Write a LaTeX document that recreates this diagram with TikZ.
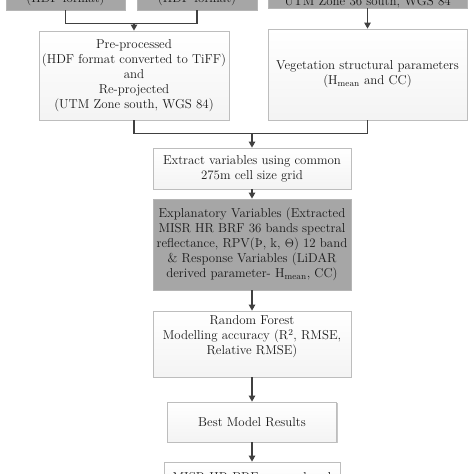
\documentclass[tikz,border=0pt]{standalone}
\usetikzlibrary{arrows.meta,shadows,calc}
\definecolor{boxline}{gray}{0.74}
\definecolor{darkfill}{gray}{0.65}
\definecolor{connc}{gray}{0.25}
\tikzset{
 base/.style={draw=boxline, line width=0.8pt, drop shadow={shadow xshift=1.2pt,shadow yshift=-1.2pt,opacity=0.22,fill=black}, inner sep=0pt, align=center},
 whitebox/.style={base, top color=white, bottom color=gray!9},
 darkbox/.style={base, fill=darkfill, draw=gray!58},
 txt/.style={align=center, inner sep=0pt, text=black!90, font=\fontsize{12.9}{15}\selectfont},
 conn/.style={draw=connc, line width=1.1pt},
 arr/.style={conn, -{Triangle[length=6pt,width=6.5pt]}},
}
\begin{document}
\begin{tikzpicture}[x=1pt,y=-1pt]
\path[use as bounding box] (0,0) rectangle (474,474);
\clip (0,0) rectangle (474,474);
% top boxes (cut off by the frame, as in the reference)
\node[darkbox, minimum width=119pt, minimum height=50pt] (t1) at (65.5,-15) {};
\node[darkbox, minimum width=120pt, minimum height=50pt] (t2) at (197,-15) {};
\node[darkbox, minimum width=199pt, minimum height=48pt] (t3) at (367.5,-16) {};
\node[txt, anchor=base] (t1t) at (t1.south |- 0,2) {(HDF format)};
\node[txt, anchor=base] (t2t) at (t2.south |- 0,2) {(HDF format)};
\node[txt, anchor=base] (t3t) at (t3.south |- 0,5) {UTM Zone 36 south, WGS 84};
% second row
\node[whitebox, minimum width=190pt, minimum height=89pt] (pre) at (134,75.5) {};
\node[txt] (pret) at (pre.center) {Pre-processed\\(HDF format converted to TiFF)\\and\\Re-projected\\(UTM Zone south, WGS 84)};
\node[whitebox, minimum width=199pt, minimum height=91pt] (veg) at (367.5,74.5) {};
\node[txt] (vegt) at (veg.center) {Vegetation structural parameters\\(H\textsubscript{mean} and CC)};
% main column
\node[whitebox, minimum width=198pt, minimum height=41pt] (ext) at (252,168.5) {};
\node[txt] (extt) at (ext.center) {Extract variables using common\\275m cell size grid};
\node[darkbox, minimum width=198pt, minimum height=91pt] (expl) at (252,244.5) {};
\node[txt] (explt) at (expl.center) {Explanatory Variables (Extracted\\MISR HR BRF 36 bands spectral\\reflectance, RPV(Þ, k, $\Theta$) 12 band\\\& Response Variables (LiDAR\\derived parameter- H\textsubscript{mean}, CC)};
\node[whitebox, minimum width=198pt, minimum height=66pt] (rf) at (252,344) {};
\node[txt] (rft) at ($(rf.center)+(0,-7)$) {Random Forest\\Modelling accuracy (R\textsuperscript{2}, RMSE,\\Relative RMSE)};
\node[whitebox, minimum width=169pt, minimum height=40pt] (best) at (252,422) {};
\node[txt] (bestt) at (best.center) {Best Model Results};
\node[whitebox, minimum width=176pt, minimum height=50pt] (last) at (252,487) {};
\node[txt, anchor=base] (lastt) at (last.north |- 0,481) {MISR HR BRF mapped and};
% connectors
\draw[conn] (t1.south) -- ++(0,13) -| (t2.south);
\coordinate (j1) at (pre.north |- 0,23);
\draw[arr] (j1) -- (pre.north);
\draw[arr] (t3.south) -- (veg.north);
\draw[conn] (pre.south) -- ++(0,13) -| (veg.south);
\coordinate (j2) at (ext.north |- 0,133);
\draw[arr] (j2) -- (ext.north);
\draw[arr] (ext.south) -- (expl.north);
\draw[arr] (expl.south) -- (rf.north);
\draw[arr] (rf.south) -- (best.north);
\draw[arr] (best.south) -- (last.north);
\end{tikzpicture}
\end{document}
